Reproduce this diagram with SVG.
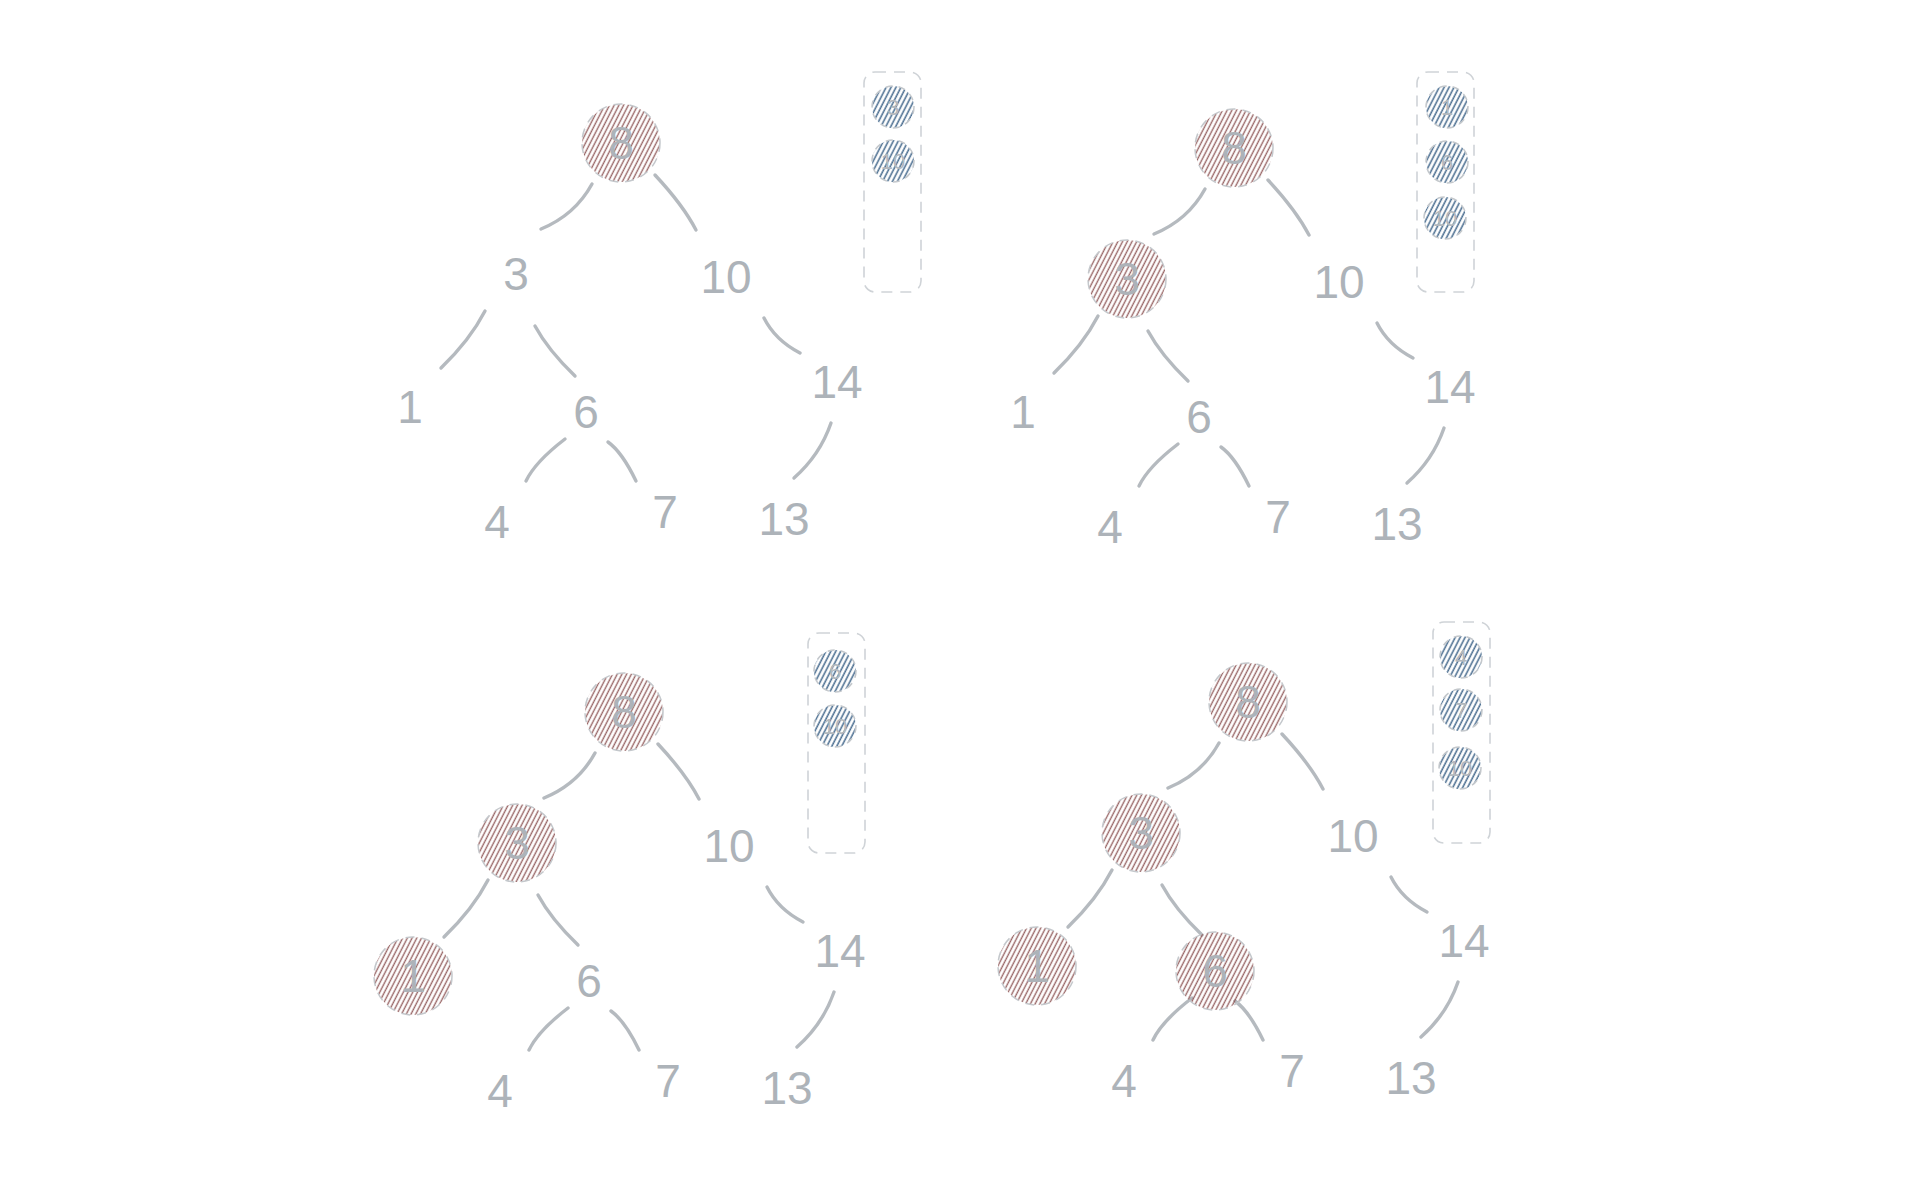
<svg xmlns="http://www.w3.org/2000/svg" width="1920" height="1186" viewBox="0 0 1920 1186">
<defs>
<pattern id="hr" width="4.2" height="10" patternUnits="userSpaceOnUse" patternTransform="rotate(27)">
<line x1="2" y1="0" x2="2" y2="10" stroke="#8a4f4f" stroke-width="1.4" stroke-opacity="0.85"/>
</pattern>
<pattern id="hb" width="4.4" height="10" patternUnits="userSpaceOnUse" patternTransform="rotate(27)">
<line x1="2" y1="0" x2="2" y2="10" stroke="#3e6489" stroke-width="1.6" stroke-opacity="0.9"/>
</pattern>
</defs>
<style>
.t{font-family:"Liberation Sans","DejaVu Sans",sans-serif;font-size:46px;fill:#adb3b9;text-anchor:middle}
.s{font-family:"Liberation Sans","DejaVu Sans",sans-serif;font-size:22px;fill:#b3b8bd;text-anchor:middle}
.e{fill:none;stroke:#b5babf;stroke-width:3.4;stroke-linecap:round}
.v{fill:url(#hr);stroke:#c4c8cc;stroke-width:1.5;stroke-dasharray:9 7}
.q{fill:url(#hb);stroke:#c4c8cc;stroke-width:1.5;stroke-dasharray:7 6}
.b{fill:none;stroke:#cfd3d7;stroke-width:1.6;stroke-dasharray:11 8}
</style>
<rect width="1920" height="1186" fill="#ffffff"/>

<!-- Panel 1 -->
<g id="panel1" transform="translate(621,143)">
<g id="p1-edges">
<path class="e" d="M-29,41 Q-46,72 -80,86"/>
<path class="e" d="M34,32 Q62,62 75,87"/>
<path class="e" d="M-136,168 Q-151,197 -180,225"/>
<path class="e" d="M-86,183 Q-73,207 -46,233"/>
<path class="e" d="M143,175 Q154,197 179,210"/>
<path class="e" d="M-56,296 Q-86,319 -95,338"/>
<path class="e" d="M-13,299 Q1,309 15,338"/>
<path class="e" d="M210,280 Q199,312 173,335"/>
</g>
<g id="p1-n8"><circle class="v" cx="0" cy="0" r="39"/><text class="t" x="0" y="16">8</text></g>
<g id="p1-n3"><text class="t" x="-105" y="147">3</text></g>
<g id="p1-n10"><text class="t" x="105" y="150">10</text></g>
<g id="p1-n1"><text class="t" x="-211" y="280">1</text></g>
<g id="p1-n6"><text class="t" x="-35" y="285">6</text></g>
<g id="p1-n14"><text class="t" x="216" y="255">14</text></g>
<g id="p1-n4"><text class="t" x="-124" y="395">4</text></g>
<g id="p1-n7"><text class="t" x="44" y="385">7</text></g>
<g id="p1-n13"><text class="t" x="163" y="392">13</text></g>
</g>
<g id="p1-stack">
<rect class="b" x="864" y="72" width="57" height="220" rx="11"/>
<g id="p1-s1"><circle class="q" cx="893" cy="107" r="21"/><text class="s" x="893" y="115">3</text></g>
<g id="p1-s2"><circle class="q" cx="893" cy="161" r="21"/><text class="s" x="893" y="169">10</text></g>
</g>

<!-- Panel 2 -->
<g id="panel2" transform="translate(1234,148)">
<g id="p2-edges">
<path class="e" d="M-29,41 Q-46,72 -80,86"/>
<path class="e" d="M34,32 Q62,62 75,87"/>
<path class="e" d="M-136,168 Q-151,197 -180,225"/>
<path class="e" d="M-86,183 Q-73,207 -46,233"/>
<path class="e" d="M143,175 Q154,197 179,210"/>
<path class="e" d="M-56,296 Q-86,319 -95,338"/>
<path class="e" d="M-13,299 Q1,309 15,338"/>
<path class="e" d="M210,280 Q199,312 173,335"/>
</g>
<g id="p2-n8"><circle class="v" cx="0" cy="0" r="39"/><text class="t" x="0" y="16">8</text></g>
<g id="p2-n3"><circle class="v" cx="-107" cy="131" r="39"/><text class="t" x="-107" y="147">3</text></g>
<g id="p2-n10"><text class="t" x="105" y="150">10</text></g>
<g id="p2-n1"><text class="t" x="-211" y="280">1</text></g>
<g id="p2-n6"><text class="t" x="-35" y="285">6</text></g>
<g id="p2-n14"><text class="t" x="216" y="255">14</text></g>
<g id="p2-n4"><text class="t" x="-124" y="395">4</text></g>
<g id="p2-n7"><text class="t" x="44" y="385">7</text></g>
<g id="p2-n13"><text class="t" x="163" y="392">13</text></g>
</g>
<g id="p2-stack">
<rect class="b" x="1417" y="72" width="57" height="220" rx="11"/>
<g id="p2-s1"><circle class="q" cx="1447" cy="107" r="21"/><text class="s" x="1447" y="115">1</text></g>
<g id="p2-s2"><circle class="q" cx="1447" cy="162" r="21"/><text class="s" x="1447" y="170">6</text></g>
<g id="p2-s3"><circle class="q" cx="1445" cy="218" r="21"/><text class="s" x="1445" y="226">10</text></g>
</g>

<!-- Panel 3 -->
<g id="panel3" transform="translate(624,712)">
<g id="p3-edges">
<path class="e" d="M-29,41 Q-46,72 -80,86"/>
<path class="e" d="M34,32 Q62,62 75,87"/>
<path class="e" d="M-136,168 Q-151,197 -180,225"/>
<path class="e" d="M-86,183 Q-73,207 -46,233"/>
<path class="e" d="M143,175 Q154,197 179,210"/>
<path class="e" d="M-56,296 Q-86,319 -95,338"/>
<path class="e" d="M-13,299 Q1,309 15,338"/>
<path class="e" d="M210,280 Q199,312 173,335"/>
</g>
<g id="p3-n8"><circle class="v" cx="0" cy="0" r="39"/><text class="t" x="0" y="16">8</text></g>
<g id="p3-n3"><circle class="v" cx="-107" cy="131" r="39"/><text class="t" x="-107" y="147">3</text></g>
<g id="p3-n10"><text class="t" x="105" y="150">10</text></g>
<g id="p3-n1"><circle class="v" cx="-211" cy="264" r="39"/><text class="t" x="-211" y="280">1</text></g>
<g id="p3-n6"><text class="t" x="-35" y="285">6</text></g>
<g id="p3-n14"><text class="t" x="216" y="255">14</text></g>
<g id="p3-n4"><text class="t" x="-124" y="395">4</text></g>
<g id="p3-n7"><text class="t" x="44" y="385">7</text></g>
<g id="p3-n13"><text class="t" x="163" y="392">13</text></g>
</g>
<g id="p3-stack">
<rect class="b" x="808" y="633" width="57" height="220" rx="11"/>
<g id="p3-s1"><circle class="q" cx="835" cy="671" r="21"/><text class="s" x="835" y="679">6</text></g>
<g id="p3-s2"><circle class="q" cx="835" cy="726" r="21"/><text class="s" x="835" y="734">10</text></g>
</g>

<!-- Panel 4 -->
<g id="panel4" transform="translate(1248,702)">
<g id="p4-edges">
<path class="e" d="M-29,41 Q-46,72 -80,86"/>
<path class="e" d="M34,32 Q62,62 75,87"/>
<path class="e" d="M-136,168 Q-151,197 -180,225"/>
<path class="e" d="M-86,183 Q-73,207 -46,233"/>
<path class="e" d="M143,175 Q154,197 179,210"/>
<path class="e" d="M-56,296 Q-86,319 -95,338"/>
<path class="e" d="M-13,299 Q1,309 15,338"/>
<path class="e" d="M210,280 Q199,312 173,335"/>
</g>
<g id="p4-n8"><circle class="v" cx="0" cy="0" r="39"/><text class="t" x="0" y="16">8</text></g>
<g id="p4-n3"><circle class="v" cx="-107" cy="131" r="39"/><text class="t" x="-107" y="147">3</text></g>
<g id="p4-n10"><text class="t" x="105" y="150">10</text></g>
<g id="p4-n1"><circle class="v" cx="-211" cy="264" r="39"/><text class="t" x="-211" y="280">1</text></g>
<g id="p4-n6"><circle class="v" cx="-33" cy="269" r="39"/><text class="t" x="-33" y="285">6</text></g>
<g id="p4-n14"><text class="t" x="216" y="255">14</text></g>
<g id="p4-n4"><text class="t" x="-124" y="395">4</text></g>
<g id="p4-n7"><text class="t" x="44" y="385">7</text></g>
<g id="p4-n13"><text class="t" x="163" y="392">13</text></g>
</g>
<g id="p4-stack">
<rect class="b" x="1433" y="622" width="57" height="221" rx="11"/>
<g id="p4-s1"><circle class="q" cx="1461" cy="657" r="21"/><text class="s" x="1461" y="665">4</text></g>
<g id="p4-s2"><circle class="q" cx="1461" cy="710" r="21"/><text class="s" x="1461" y="718">7</text></g>
<g id="p4-s3"><circle class="q" cx="1460" cy="768" r="21"/><text class="s" x="1460" y="776">10</text></g>
</g>
</svg>
